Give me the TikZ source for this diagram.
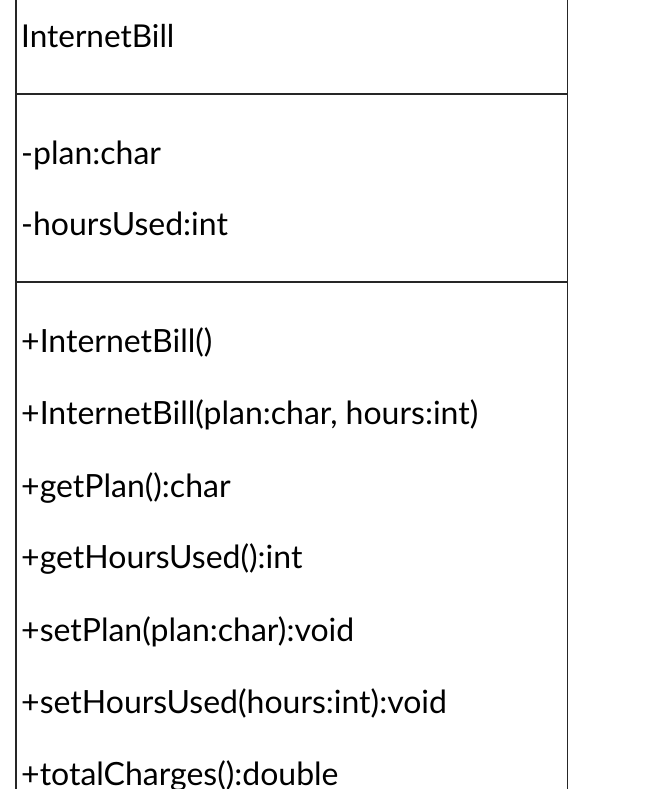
\documentclass[tikz,border=0pt]{standalone}
\usepackage{fontspec}
\setmainfont{Lato}
\begin{document}
\begin{tikzpicture}[x=1pt,y=-1pt,
  txt/.style={anchor=base west,inner sep=0pt,font=\fontsize{32}{38}\selectfont},
  rule/.style={draw=black!85,line width=1.3pt}]
\useasboundingbox (0,0) rectangle (660,789);
\fill[white] (0,0) rectangle (660,789);
\coordinate (tl) at (16,-2);
\coordinate (bl) at (16,791);
\coordinate (tr) at (567.5,-2);
\coordinate (br) at (567.5,791);
\coordinate (s1l) at (16,94);
\coordinate (s1r) at (567.5,94);
\coordinate (s2l) at (16,282);
\coordinate (s2r) at (567.5,282);
\draw[rule] (tl) -- (bl);
\draw[rule] (tr) -- (br);
\draw[rule] (s1l) -- (s1r);
\draw[rule] (s2l) -- (s2r);
\node[txt,font=\fontsize{31.5}{38}\selectfont] (n) at (21,48) {InternetBill};
\node[txt] (a1) at (21,164) {-plan:char};
\node[txt] (a2) at (21,235) {-hoursUsed:int};
\node[txt] (m1) at (21,352) {+InternetBill()};
\node[txt] (m2) at (21,424) {+InternetBill(plan:char, hours:int)};
\node[txt] (m3) at (21,497) {+getPlan():char};
\node[txt] (m4) at (21,568) {+getHoursUsed():int};
\node[txt] (m5) at (21,641) {+setPlan(plan:char):void};
\node[txt] (m6) at (21,713) {+setHoursUsed(hours:int):void};
\node[txt] (m7) at (21,785) {+totalCharges():double};
\end{tikzpicture}
\end{document}
